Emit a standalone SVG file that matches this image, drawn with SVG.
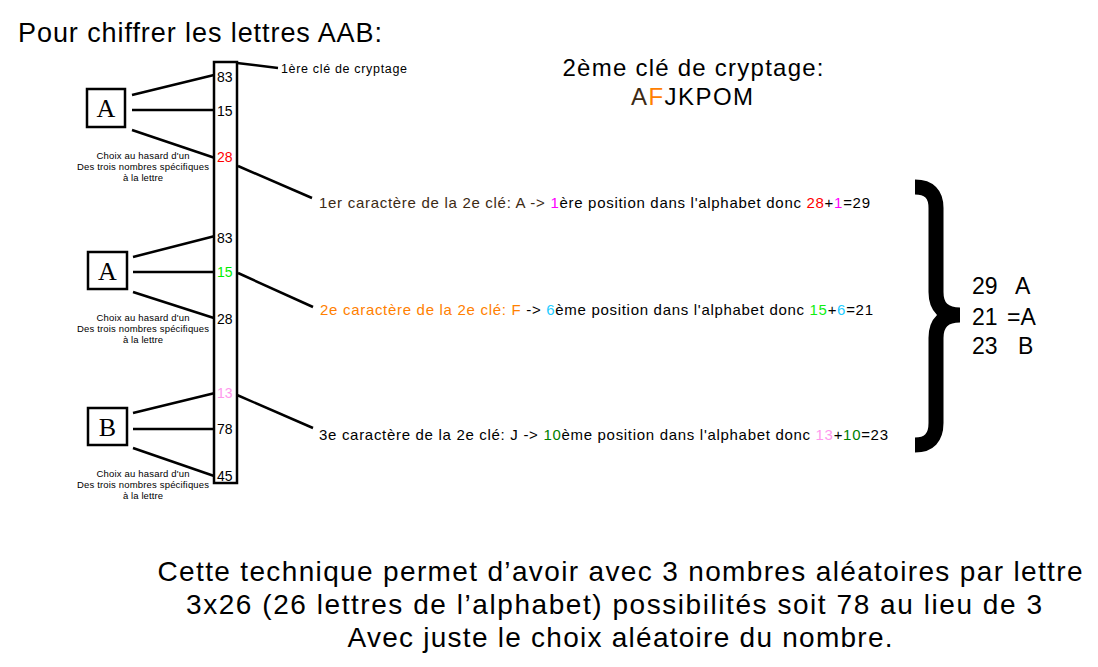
<svg xmlns="http://www.w3.org/2000/svg" width="1098" height="667" viewBox="0 0 1098 667">
<style>
.s{font-family:"Liberation Sans",Arial,sans-serif;}
.box{fill:#fff;stroke:#000;stroke-width:2.5;}
.let{font-family:"Liberation Serif","Times New Roman",serif;font-size:26px;text-anchor:middle;}
.num{font-family:"Liberation Sans",Arial,sans-serif;font-size:14px;}
.cap{font-family:"Liberation Sans",Arial,sans-serif;font-size:9.5px;text-anchor:middle;}
.ln{stroke:#000;stroke-width:2.5;fill:none;}
.desc{font-family:"Liberation Sans",Arial,sans-serif;font-size:15px;}
.res{font-family:"Liberation Sans",Arial,sans-serif;font-size:23px;}
.big{font-family:"Liberation Sans",Arial,sans-serif;font-size:28px;text-anchor:middle;}
</style>
<rect width="1098" height="667" fill="#fff"/>
<text class="s" x="18" y="42" font-size="27" textLength="364" lengthAdjust="spacing">Pour chiffrer les lettres AAB:</text>

<g id="connectors">
<line class="ln" x1="132" y1="95" x2="214" y2="75"/>
<line class="ln" x1="132" y1="110" x2="214" y2="110"/>
<line class="ln" x1="132" y1="130" x2="215" y2="158"/>
<line class="ln" x1="237" y1="63" x2="278" y2="68"/>
<line class="ln" x1="238" y1="166" x2="312" y2="198"/>
<line class="ln" x1="133" y1="257" x2="215" y2="236"/>
<line class="ln" x1="133" y1="272" x2="214" y2="272"/>
<line class="ln" x1="133" y1="292" x2="217" y2="319"/>
<line class="ln" x1="238" y1="273" x2="313" y2="307"/>
<line class="ln" x1="133" y1="413" x2="215" y2="393"/>
<line class="ln" x1="133" y1="429" x2="214" y2="429"/>
<line class="ln" x1="133" y1="448" x2="217" y2="477"/>
<line class="ln" x1="237" y1="395" x2="313" y2="428"/>
</g>

<g id="column">
<rect x="214" y="62" width="23" height="421" fill="#fff" stroke="#000" stroke-width="2.5"/>
<text class="num" x="217" y="82">83</text>
<text class="num" x="217" y="116">15</text>
<text class="num" x="217" y="162" fill="#ff0000">28</text>
<text class="num" x="217" y="243">83</text>
<text class="num" x="217" y="277" fill="#00ee00">15</text>
<text class="num" x="217" y="324">28</text>
<text class="num" x="217" y="398" fill="#ff99ee">13</text>
<text class="num" x="217" y="434">78</text>
<text class="num" x="217" y="481">45</text>
</g>

<g id="key1label">
<text class="s" x="281" y="73" font-size="12.5" textLength="126" lengthAdjust="spacing">1ère clé de cryptage</text>
</g>

<g id="nodeA1">
<rect class="box" x="87" y="89" width="38" height="38"/>
<text class="let" x="106" y="117">A</text>
<text class="cap" x="143" y="159" textLength="93" lengthAdjust="spacing">Choix au hasard d'un</text>
<text class="cap" x="143" y="170" textLength="132" lengthAdjust="spacing">Des trois nombres spécifiques</text>
<text class="cap" x="143" y="181" textLength="40" lengthAdjust="spacing">à la lettre</text>
</g>

<g id="nodeA2">
<rect class="box" x="88" y="252" width="39" height="37"/>
<text class="let" x="107.5" y="280">A</text>
<text class="cap" x="143" y="321" textLength="93" lengthAdjust="spacing">Choix au hasard d'un</text>
<text class="cap" x="143" y="332" textLength="132" lengthAdjust="spacing">Des trois nombres spécifiques</text>
<text class="cap" x="143" y="343" textLength="40" lengthAdjust="spacing">à la lettre</text>
</g>

<g id="nodeB">
<rect class="box" x="88" y="408" width="39" height="37"/>
<text class="let" x="107.5" y="436">B</text>
<text class="cap" x="143" y="477" textLength="93" lengthAdjust="spacing">Choix au hasard d'un</text>
<text class="cap" x="143" y="488" textLength="132" lengthAdjust="spacing">Des trois nombres spécifiques</text>
<text class="cap" x="143" y="499" textLength="40" lengthAdjust="spacing">à la lettre</text>
</g>

<g id="key2">
<text class="s" x="693" y="76" font-size="24" text-anchor="middle" textLength="261" lengthAdjust="spacing">2ème clé de cryptage:</text>
<text class="s" x="692" y="105" font-size="24" text-anchor="middle" textLength="122" lengthAdjust="spacing"><tspan fill="#3c2a14">A</tspan><tspan fill="#ff8000">F</tspan><tspan fill="#000">JKPOM</tspan></text>
</g>

<g id="step1">
<text class="desc" x="319" y="208" textLength="551" lengthAdjust="spacing"><tspan fill="#3c2a14">1er caractère de la 2e clé: A -&gt; </tspan><tspan fill="#ff00ff">1</tspan><tspan>ère position dans l'alphabet donc </tspan><tspan fill="#ff0000">28</tspan><tspan>+</tspan><tspan fill="#ff00ff">1</tspan><tspan>=29</tspan></text>
</g>
<g id="step2">
<text class="desc" x="320" y="315" textLength="553" lengthAdjust="spacing"><tspan fill="#ff8000">2e caractère de la 2e clé: F </tspan><tspan>-&gt; </tspan><tspan fill="#22ccff">6</tspan><tspan>ème position dans l'alphabet donc </tspan><tspan fill="#11ee11">15</tspan><tspan>+</tspan><tspan fill="#22ccff">6</tspan><tspan>=21</tspan></text>
</g>
<g id="step3">
<text class="desc" x="319" y="440" textLength="569" lengthAdjust="spacing"><tspan>3e caractère de la 2e clé: J -&gt; </tspan><tspan fill="#008000">10</tspan><tspan>ème position dans l'alphabet donc </tspan><tspan fill="#ff99ee">13</tspan><tspan>+</tspan><tspan fill="#008000">10</tspan><tspan>=23</tspan></text>
</g>

<g id="brace">
<path d="M915,187 Q936,187 936,208 L936,292 Q936,315 960,315 Q936,315 936,338 L936,423 Q936,445 915,445" fill="none" stroke="#000" stroke-width="15"/>
</g>

<g id="result">
<text class="res" x="972" y="294">29</text>
<text class="res" x="1015" y="294">A</text>
<text class="res" x="972" y="325">21</text>
<text class="res" x="1007" y="325">=A</text>
<text class="res" x="972" y="354">23</text>
<text class="res" x="1018" y="354">B</text>
</g>

<g id="conclusion">
<text class="big" x="620" y="581" textLength="925" lengthAdjust="spacing">Cette technique permet d’avoir avec 3 nombres aléatoires par lettre</text>
<text class="big" x="614" y="614" textLength="856" lengthAdjust="spacing">3x26 (26 lettres de l’alphabet) possibilités soit 78 au lieu de 3</text>
<text class="big" x="620" y="647" textLength="545" lengthAdjust="spacing">Avec juste le choix aléatoire du nombre.</text>
</g>
</svg>
